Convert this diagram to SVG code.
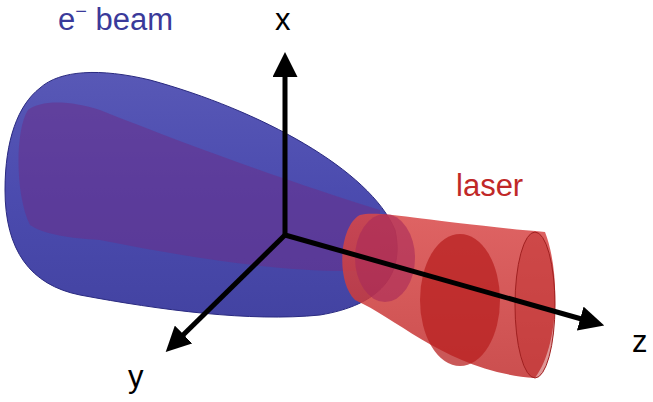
<svg xmlns="http://www.w3.org/2000/svg" width="653" height="402" viewBox="0 0 653 402">
<style>
.t{font-family:"Liberation Sans",Arial,sans-serif;font-size:31px}
.ax{stroke:#000;stroke-width:5;fill:none}
</style>
<defs>
<marker id="ah" viewBox="0 0 10 10" refX="2" refY="5" markerWidth="5" markerHeight="5" orient="auto" markerUnits="strokeWidth"><path d="M0,0L10,5L0,10z" fill="#000"/></marker>
<linearGradient id="bg" x1="0" y1="0" x2="0" y2="1"><stop offset="0" stop-color="#4a4ab0"/><stop offset="0.5" stop-color="#3c3ca8"/><stop offset="1" stop-color="#33339a"/></linearGradient>
<linearGradient id="rg" x1="0" y1="0" x2="0" y2="1"><stop offset="0" stop-color="#d94848"/><stop offset="1" stop-color="#c23030"/></linearGradient>
</defs>
<rect width="653" height="402" fill="#fff"/>
<path d="M40,88 C60,70 100,68 150,80 C260,110 370,170 395,230 C405,275 380,305 320,315 C250,322 160,310 80,295 C30,285 5,250 5,190 C5,140 18,105 40,88 Z" fill="url(#bg)" fill-opacity="0.92" stroke="#2a2a80" stroke-width="1"/>
<path d="M28,110 C40,100 70,100 100,110 C200,150 300,185 380,210 L380,270 C300,275 200,260 100,240 C70,238 45,235 30,225 C15,195 15,130 28,110 Z" fill="#6a2f8a" fill-opacity="0.55"/>
<g id="axes">
<line class="ax" x1="285" y1="235" x2="285" y2="72" marker-end="url(#ah)"/>
<line class="ax" x1="285" y1="235" x2="180" y2="338" marker-end="url(#ah)"/>
</g>
<path d="M360,215 C380,210 430,222 545,232 C560,270 560,345 535,378 C450,372 400,320 355,300 C335,280 340,225 360,215 Z" fill="url(#rg)" fill-opacity="0.85"/>
<ellipse cx="385" cy="258" rx="30" ry="44" fill="#a82a5a" fill-opacity="0.6"/>
<ellipse cx="460" cy="300" rx="40" ry="66" fill="#b82020" fill-opacity="0.75"/>
<ellipse cx="535" cy="305" rx="20" ry="73" fill="#c03030" fill-opacity="0.5" stroke="#a02020" stroke-width="1"/>
<line class="ax" x1="285" y1="235" x2="585" y2="320" marker-end="url(#ah)"/>
<text class="t" x="58" y="30" fill="#3a3a9a">e<tspan font-size="20" dy="-12">−</tspan><tspan dy="12"> beam</tspan></text>
<text class="t" x="275" y="30" fill="#000">x</text>
<text class="t" x="456" y="196" fill="#c02828">laser</text>
<text class="t" x="632" y="352" fill="#000">z</text>
<text class="t" x="128" y="387" fill="#000">y</text>
</svg>
